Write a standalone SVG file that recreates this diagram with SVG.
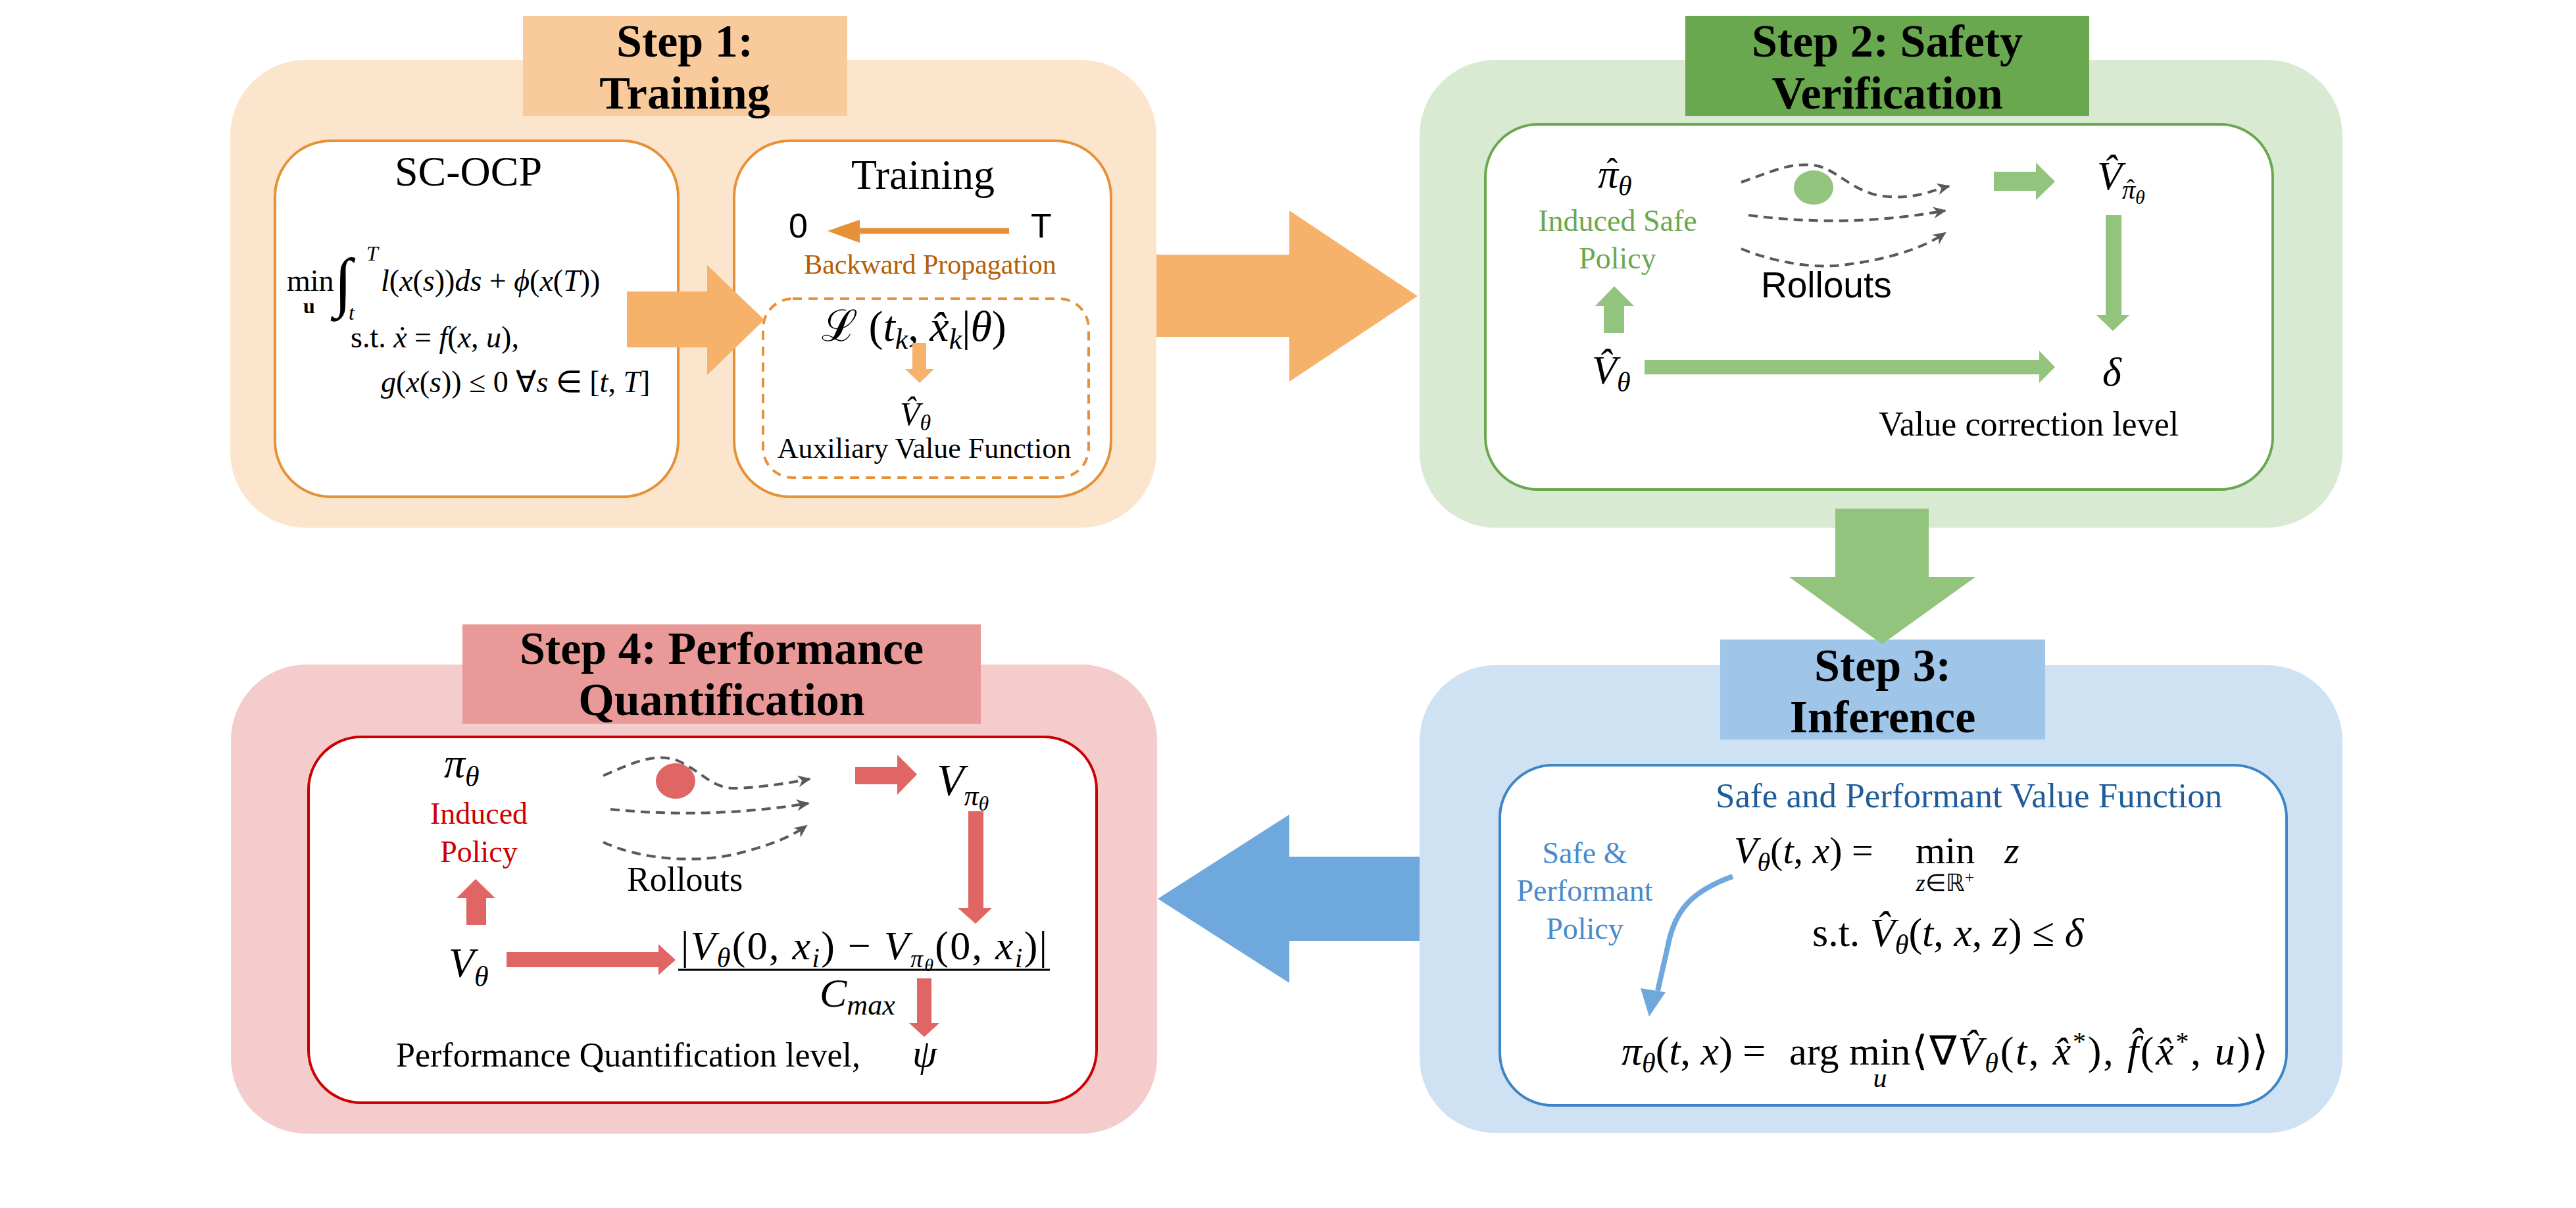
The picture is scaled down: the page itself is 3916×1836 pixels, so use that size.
<svg xmlns="http://www.w3.org/2000/svg" width="3916" height="1836" viewBox="0 0 3916 1836">
<style>
text { font-family: "Liberation Serif", "Times New Roman", serif; fill: #000; }
.sans { font-family: "Liberation Sans", Arial, sans-serif; }
.it { font-style: italic; }
.title { font-weight: bold; font-size: 70px; text-anchor: middle; }
.mid { text-anchor: middle; }
.dash { fill: none; stroke: #595959; stroke-width: 4; stroke-dasharray: 14 9; marker-end: url(#dh); }
.inner { fill: #fff; stroke-width: 4; }
</style>
<defs>
<marker id="dh" markerUnits="userSpaceOnUse" markerWidth="24" markerHeight="20" refX="18" refY="9" orient="auto">
<path d="M0,0 L20,9 L0,18 L6,9 z" fill="#595959"/>
</marker>
</defs>
<rect width="3916" height="1836" fill="#fff"/>

<!-- Step 1 -->
<g id="step1">
<rect x="350" y="91" width="1408" height="711" rx="115" fill="#FCE5CD"/>
<rect x="795" y="24" width="493" height="152" fill="#F9CB9C"/>
<text class="title" x="1041" y="86">Step 1:</text>
<text class="title" x="1041" y="165">Training</text>
</g>
<g id="step1-scocp">
<rect class="inner" x="418" y="214" width="613" height="541" rx="85" stroke="#E69138"/>
<text class="mid" x="712" y="282" font-size="64">SC-OCP</text>
<text x="436" y="442" font-size="46">min</text>
<text class="mid" x="470" y="476" font-size="32" font-weight="bold">u</text>
<text class="it" x="508" y="462" font-size="100">∫</text>
<text class="it" x="557" y="396" font-size="32">T</text>
<text class="it" x="530" y="486" font-size="32">t</text>
<text x="579" y="442" font-size="46"><tspan class="it">l</tspan>(<tspan class="it">x</tspan>(<tspan class="it">s</tspan>))<tspan class="it">ds</tspan> + <tspan class="it">ϕ</tspan>(<tspan class="it">x</tspan>(<tspan class="it">T</tspan>))</text>
<text x="533" y="528" font-size="46">s.t. <tspan class="it">ẋ</tspan> = <tspan class="it">f</tspan>(<tspan class="it">x</tspan>, <tspan class="it">u</tspan>),</text>
<text x="579" y="596" font-size="46"><tspan class="it">g</tspan>(<tspan class="it">x</tspan>(<tspan class="it">s</tspan>)) ≤ 0  ∀<tspan class="it">s</tspan> ∈ [<tspan class="it">t</tspan>, <tspan class="it">T</tspan>]</text>
</g>
<g id="step1-training">
<rect class="inner" x="1116" y="214" width="573" height="541" rx="85" stroke="#E69138"/>
<text class="mid" x="1403" y="287" font-size="64">Training</text>
<text class="sans" x="1199" y="361" font-size="52">0</text>
<text class="sans" x="1567" y="361" font-size="52">T</text>
<text class="mid" x="1414" y="416" font-size="42" style="fill:#B45F06">Backward Propagation</text>
<rect x="1160" y="454" width="495" height="272" rx="45" fill="none" stroke="#E69138" stroke-width="4" stroke-dasharray="14 10"/>
<text x="1249" y="518" font-size="66">ℒ (<tspan class="it">t</tspan><tspan class="it" font-size="44" dy="12">k</tspan><tspan dy="-12">, </tspan><tspan class="it">x̂</tspan><tspan class="it" font-size="44" dy="12">k</tspan><tspan dy="-12">|</tspan><tspan class="it">θ</tspan>)</text>
<text x="1368" y="646" font-size="50"><tspan class="it">V̂</tspan><tspan class="it" font-size="34" dy="8">θ</tspan></text>
<text class="mid" x="1405" y="696" font-size="44">Auxiliary Value Function</text>
</g>

<!-- Step 2 -->
<g id="step2">
<rect x="2158" y="91" width="1403" height="711" rx="115" fill="#D9EAD3"/>
<rect x="2562" y="24" width="614" height="152" fill="#6AA84F"/>
<text class="title" x="2869" y="86">Step 2: Safety</text>
<text class="title" x="2869" y="165">Verification</text>
</g>
<g id="step2-verification">
<rect class="inner" x="2258" y="189" width="1197" height="555" rx="80" stroke="#6AA84F"/>
<text x="2429" y="285" font-size="62"><tspan class="it">π</tspan><tspan class="it" font-size="42" dy="12">θ</tspan></text>
<text class="mid" x="2451" y="277" font-size="52">ˆ</text>
<text class="mid" x="2459" y="351" font-size="46" style="fill:#6AA84F">Induced Safe</text>
<text class="mid" x="2459" y="408" font-size="46" style="fill:#6AA84F">Policy</text>
<text x="2420" y="583" font-size="62"><tspan class="it">V̂</tspan><tspan class="it" font-size="42" dy="12">θ</tspan></text>
<text x="3188" y="288" font-size="62"><tspan class="it">V̂</tspan><tspan class="it" font-size="40" dy="14">π</tspan><tspan class="it" font-size="30" dy="8">θ</tspan></text>
<text class="mid" x="3239" y="298" font-size="36">ˆ</text>
<text class="it" x="3196" y="586" font-size="62">δ</text>
<ellipse cx="2757" cy="285" rx="30" ry="26" fill="#93C47D"/>
<text class="sans" x="2677" y="452" font-size="55">Rollouts</text>
<text x="2856" y="662" font-size="52">Value correction level</text>
</g>

<!-- Step 3 -->
<g id="step3">
<rect x="2158" y="1011" width="1403" height="711" rx="115" fill="#CFE2F3"/>
<rect x="2615" y="972" width="494" height="152" fill="#9FC5E8"/>
<text class="title" x="2862" y="1035">Step 3:</text>
<text class="title" x="2862" y="1113">Inference</text>
</g>
<g id="step3-inference">
<rect class="inner" x="2280" y="1163" width="1196" height="517" rx="80" stroke="#3D85C6"/>
<text x="2608" y="1227" font-size="53" style="fill:#1F5C99">Safe and Performant Value Function</text>
<text class="mid" x="2409" y="1312" font-size="46" style="fill:#4A8ACB">Safe &amp;</text>
<text class="mid" x="2409" y="1369" font-size="46" style="fill:#4A8ACB">Performant</text>
<text class="mid" x="2409" y="1427" font-size="46" style="fill:#4A8ACB">Policy</text>
<text x="2636" y="1312" font-size="58"><tspan class="it">V</tspan><tspan class="it" font-size="40" dy="12">θ</tspan><tspan dy="-12">(</tspan><tspan class="it">t</tspan>, <tspan class="it">x</tspan>) =</text>
<text x="2912" y="1312" font-size="58">min</text>
<text class="mid" x="2957" y="1354" font-size="36"><tspan class="it">z</tspan>∈ℝ<tspan font-size="26" dy="-12">+</tspan></text>
<text class="it" x="3047" y="1312" font-size="58">z</text>
<text x="2755" y="1438" font-size="62">s.t. <tspan class="it">V̂</tspan><tspan class="it" font-size="42" dy="12">θ</tspan><tspan dy="-12">(</tspan><tspan class="it">t</tspan>, <tspan class="it">x</tspan>, <tspan class="it">z</tspan>) ≤ <tspan class="it">δ</tspan></text>
<text x="2465" y="1618" font-size="62"><tspan class="it">π</tspan><tspan class="it" font-size="42" dy="12">θ</tspan><tspan dy="-12">(</tspan><tspan class="it">t</tspan>, <tspan class="it">x</tspan>) =</text>
<text x="2720" y="1618" font-size="60">arg</text>
<text x="2811" y="1618" font-size="60">min</text>
<text class="it mid" x="2858" y="1652" font-size="42">u</text>
<text x="2906" y="1618" font-size="62" textLength="542">⟨∇<tspan class="it">V̂</tspan><tspan class="it" font-size="42" dy="12">θ</tspan><tspan dy="-12">(</tspan><tspan class="it">t</tspan>, <tspan class="it">x̂</tspan><tspan font-size="40" dy="-22">*</tspan><tspan dy="22">), </tspan><tspan class="it">f̂</tspan>(<tspan class="it">x̂</tspan><tspan font-size="40" dy="-22">*</tspan><tspan dy="22">, </tspan><tspan class="it">u</tspan>)⟩</text>
</g>

<!-- Step 4 -->
<g id="step4">
<rect x="351" y="1010" width="1408" height="713" rx="115" fill="#F4CCCC"/>
<rect x="703" y="949" width="788" height="151" fill="#EA9999"/>
<text class="title" x="1097" y="1009">Step 4: Performance</text>
<text class="title" x="1097" y="1087">Quantification</text>
</g>
<g id="step4-quantification">
<rect class="inner" x="469" y="1120" width="1198" height="556" rx="80" stroke="#CC0000"/>
<text x="675" y="1181" font-size="64"><tspan class="it">π</tspan><tspan class="it" font-size="44" dy="14">θ</tspan></text>
<text class="mid" x="728" y="1252" font-size="46" style="fill:#CC0000">Induced</text>
<text class="mid" x="728" y="1310" font-size="46" style="fill:#CC0000">Policy</text>
<text x="682" y="1485" font-size="64"><tspan class="it">V</tspan><tspan class="it" font-size="44" dy="14">θ</tspan></text>
<text x="1424" y="1208" font-size="68"><tspan class="it">V</tspan><tspan class="it" font-size="44" dy="16">π</tspan><tspan class="it" font-size="32" dy="8">θ</tspan></text>
<ellipse cx="1027" cy="1187" rx="30" ry="27" fill="#E06666"/>
<text x="953" y="1354" font-size="52">Rollouts</text>
<text x="1035" y="1458" font-size="62" textLength="557">|<tspan class="it">V</tspan><tspan class="it" font-size="42" dy="12">θ</tspan><tspan dy="-12">(0, </tspan><tspan class="it">x</tspan><tspan class="it" font-size="42" dy="12">i</tspan><tspan dy="-12">) − </tspan><tspan class="it">V</tspan><tspan class="it" font-size="38" dy="12">π</tspan><tspan class="it" font-size="28" dy="6">θ</tspan><tspan dy="-18">(0, </tspan><tspan class="it">x</tspan><tspan class="it" font-size="42" dy="12">i</tspan><tspan dy="-12">)|</tspan></text>
<line x1="1031" y1="1474" x2="1596" y2="1474" stroke="#000" stroke-width="3"/>
<text x="1246" y="1530" font-size="62"><tspan class="it">C</tspan><tspan class="it" font-size="44" dy="12">max</tspan></text>
<text x="602" y="1621" font-size="52">Performance Quantification level,</text>
<text class="it" x="1387" y="1621" font-size="60">ψ</text>
</g>

<!-- Connectors -->
<g id="connectors">
<path d="M1758,387 H1960 V320 L2155,450 L1960,580 V512 H1758 Z" fill="#F6B26B"/>
<path d="M2790,773 H2932 V877 H3003 L2861,979 L2720,877 H2790 Z" fill="#93C47D"/>
<path d="M2158,1302 H1960 V1238 L1760,1366 L1960,1494 V1430 H2158 Z" fill="#6FA8DC"/>
<path d="M953,443 H1075 V403 L1162,486 L1075,570 V528 H953 Z" fill="#F6B26B"/>
<line x1="1534" y1="351" x2="1300" y2="351" stroke="#E69138" stroke-width="9"/>
<polygon points="1258,351 1307,334 1307,369" fill="#E69138"/>
<path d="M1387,521 H1408 V561 H1420 L1398,582 L1376,561 H1387 Z" fill="#F6B26B"/>
<path d="M2438,506 V465 H2425 L2454,435 L2484,465 H2469 V506 Z" fill="#93C47D"/>
<path d="M2500,547 H3100 V533 L3124,558 L3100,582 V569 H2500 Z" fill="#93C47D"/>
<path d="M3201,327 H3225 V479 H3237 L3212,503 L3187,479 H3201 Z" fill="#93C47D"/>
<path d="M3031,261 H3095 V247 L3124,276 L3095,304 V290 H3031 Z" fill="#93C47D"/>
<path class="dash" d="M2647,277 C2700,258 2720,248 2756,251 C2790,254 2815,292 2862,298 S2935,290 2963,283"/>
<path class="dash" d="M2658,327 Q2810,347 2957,320"/>
<path class="dash" d="M2647,378 C2700,400 2760,408 2800,403 C2860,396 2920,380 2957,354"/>
<path d="M2634,1332 C2570,1355 2545,1385 2535,1440 L2520,1506" fill="none" stroke="#6FA8DC" stroke-width="8"/>
<polygon points="2494,1502 2532,1508 2507,1545" fill="#6FA8DC"/>
<path d="M709,1406 V1365 H694 L723,1336 L753,1365 H739 V1406 Z" fill="#E06666"/>
<path d="M770,1447 H1001 V1435 L1027,1459 L1001,1482 V1470 H770 Z" fill="#E06666"/>
<path d="M1472,1233 H1495 V1380 H1508 L1483,1404 L1456,1380 H1472 Z" fill="#E06666"/>
<path d="M1300,1166 H1364 V1147 L1394,1177 L1364,1208 V1192 H1300 Z" fill="#E06666"/>
<path d="M1394,1487 H1416 V1555 H1428 L1405,1576 L1382,1555 H1394 Z" fill="#E06666"/>
<path class="dash" d="M917,1179 C960,1160 995,1143 1030,1156 C1070,1174 1082,1200 1122,1198 S1200,1190 1231,1184"/>
<path class="dash" d="M928,1230 Q1080,1245 1229,1221"/>
<path class="dash" d="M917,1280 C970,1305 1060,1315 1130,1295 Q1195,1278 1226,1255"/>
</g>
</svg>
